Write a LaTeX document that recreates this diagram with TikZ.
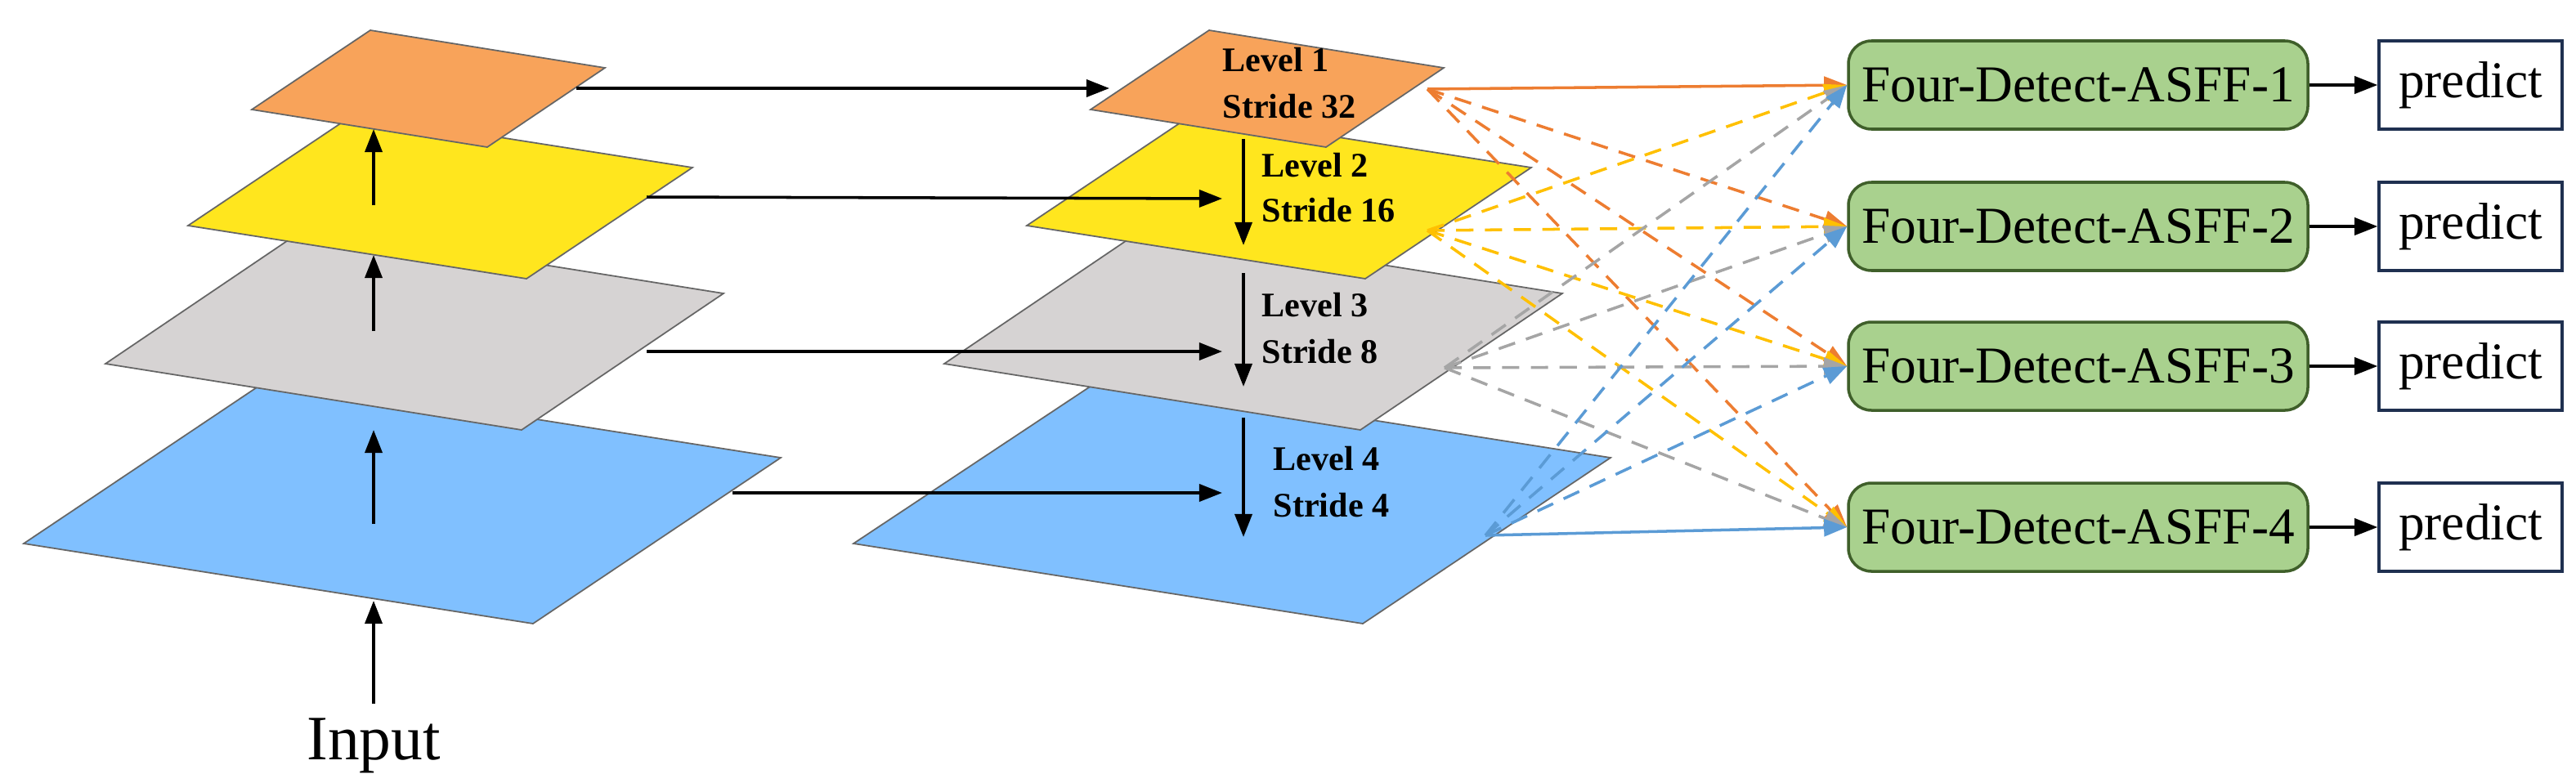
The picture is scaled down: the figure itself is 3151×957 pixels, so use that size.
\documentclass[tikz,border=0pt]{standalone}
\usepackage{fontspec}
\setmainfont{Liberation Serif}
\usetikzlibrary{arrows.meta}
\definecolor{cor}{HTML}{F8A35A}\definecolor{lor}{HTML}{ED7D31}
\definecolor{cye}{HTML}{FFE61E}\definecolor{lye}{HTML}{FFC000}
\definecolor{cgr}{HTML}{D6D3D3}\definecolor{lgr}{HTML}{A5A5A5}
\definecolor{cbl}{HTML}{80C0FF}\definecolor{lbl}{HTML}{5B9BD5}
\definecolor{cgn}{HTML}{A9D18E}\definecolor{lgn}{HTML}{3F5F2A}
\definecolor{lpr}{HTML}{1F3050}
\newlength{\pxu}\setlength{\pxu}{0.01cm}
\tikzset{
 layer/.style={draw=gray!80!black, line width=0.5pt},
 blk/.style={line width=1pt, -{Triangle[length=8pt,width=6pt]}},
 dsh/.style={line width=1pt, dashed, dash pattern=on 6pt off 4pt, -{Triangle[length=8pt,width=6pt]}},
 sol/.style={line width=1pt, -{Triangle[length=8pt,width=6pt]}},
 asff/.style={draw=lgn, fill=cgn, rounded corners=8pt, line width=1pt, minimum width=562\pxu, minimum height=108\pxu, font=\fontsize{18}{20}\selectfont, inner sep=0pt},
 pred/.style={draw=lpr, fill=white, line width=1pt, minimum width=224\pxu, minimum height=108\pxu, font=\fontsize{18}{20}\selectfont, inner sep=0pt},
 lab/.style={anchor=west, font=\bfseries\fontsize{12}{14}\selectfont, inner sep=0pt}
}
\begin{document}
\begin{tikzpicture}[x=0.01cm,y=-0.01cm]
\useasboundingbox (0,0) rectangle (3151,957);
% left stack
\filldraw[layer, fill=cbl] (332,462) -- (955,560) -- (652,763) -- (29,665) -- cycle;
\filldraw[layer, fill=cgr] (376,278) -- (885,359) -- (638,526) -- (129,445) -- cycle;
\filldraw[layer, fill=cye] (433,140) -- (847,205) -- (644,341) -- (230,276) -- cycle;
\filldraw[layer, fill=cor] (453,37) -- (740,83) -- (596,180) -- (308,134) -- cycle;
% middle stack
\filldraw[layer, fill=cbl] (1350,462) -- (1970,560) -- (1667,763) -- (1044,665) -- cycle;
\filldraw[layer, fill=cgr] (1402,278) -- (1911,359) -- (1664,526) -- (1155,445) -- cycle;
\filldraw[layer, fill=cye] (1459,140) -- (1873,205) -- (1670,341) -- (1256,276) -- cycle;
\filldraw[layer, fill=cor] (1479,37) -- (1766,83) -- (1622,180) -- (1334,134) -- cycle;
% coordinates
\coordinate (in0) at (457,861); \coordinate (in1) at (457,735);
\coordinate (b0) at (457,641); \coordinate (g1) at (457,526);
\coordinate (g0) at (457,405); \coordinate (y1) at (457,312);
\coordinate (y0) at (457,251); \coordinate (o1) at (457,158);
\node[font=\fontsize{22}{24}\selectfont] (input) at (457,912) {Input};
\draw[blk] (in0) -- (in1); \draw[blk] (b0) -- (g1);
\draw[blk] (g0) -- (y1); \draw[blk] (y0) -- (o1);
\coordinate (lo) at (705,108); \coordinate (mo) at (1357,108);
\coordinate (ly) at (791,241); \coordinate (my) at (1495,243);
\coordinate (lg) at (791,430); \coordinate (mg) at (1495,430);
\coordinate (lb) at (896,603); \coordinate (mb) at (1495,603);
\draw[blk] (lo) -- (mo); \draw[blk] (ly) -- (my);
\draw[blk] (lg) -- (mg); \draw[blk] (lb) -- (mb);
\coordinate (d1a) at (1521,170); \coordinate (d1b) at (1521,300);
\coordinate (d2a) at (1521,334); \coordinate (d2b) at (1521,473);
\coordinate (d3a) at (1521,511); \coordinate (d3b) at (1521,657);
\draw[blk] (d1a) -- (d1b); \draw[blk] (d2a) -- (d2b); \draw[blk] (d3a) -- (d3b);
\node[lab] (l1) at (1495,73) {Level 1}; \node[lab] (s1) at (1495,130) {Stride 32};
\node[lab] (l2) at (1543,202) {Level 2}; \node[lab] (s2) at (1543,257) {Stride 16};
\node[lab] (l3) at (1543,373) {Level 3}; \node[lab] (s3) at (1543,430) {Stride 8};
\node[lab] (l4) at (1557,561) {Level 4}; \node[lab] (s4) at (1557,618) {Stride 4};
% right boxes
\node[asff] (a1) at (2542,104) {Four-Detect-ASFF-1};
\node[asff] (a2) at (2542,277) {Four-Detect-ASFF-2};
\node[asff] (a3) at (2542,448) {Four-Detect-ASFF-3};
\node[asff] (a4) at (2542,645) {Four-Detect-ASFF-4};
\node[pred] (p1) at (3022,104) {predict};
\node[pred] (p2) at (3022,277) {predict};
\node[pred] (p3) at (3022,448) {predict};
\node[pred] (p4) at (3022,645) {predict};
\foreach \i in {1,...,4}{\draw[blk] (a\i) -- (p\i);}
% fusion connectors
\coordinate (so) at (1746,109); \coordinate (sy) at (1746,282);
\coordinate (sg) at (1767,450); \coordinate (sb) at (1817,655);
\draw[sol, draw=lor] (so) -- (a1.west);
\draw[dsh, draw=lor] (so) -- (a2.west);
\draw[dsh, draw=lor] (so) -- (a3.west);
\draw[dsh, draw=lor] (so) -- (a4.west);
\foreach \i in {1,...,4}{\draw[dsh, draw=lye] (sy) -- (a\i.west);}
\foreach \i in {1,...,4}{\draw[dsh, draw=lgr] (sg) -- (a\i.west);}
\draw[dsh, draw=lbl] (sb) -- (a1.west);
\draw[dsh, draw=lbl] (sb) -- (a2.west);
\draw[dsh, draw=lbl] (sb) -- (a3.west);
\draw[sol, draw=lbl] (sb) -- (a4.west);
\end{tikzpicture}
\end{document}
